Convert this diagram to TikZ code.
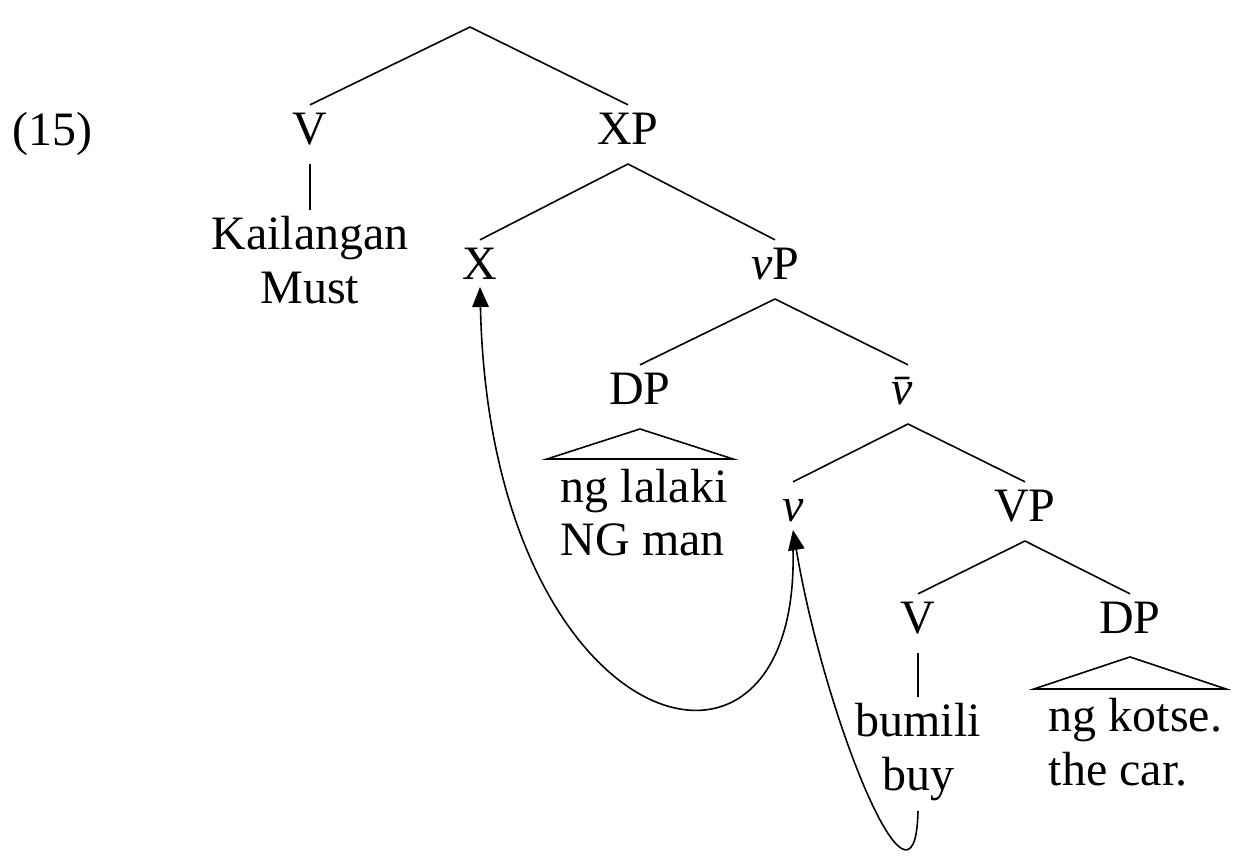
\documentclass[tikz,border=0pt]{standalone}
\usepackage{fontspec}
\setmainfont{Liberation Serif}
\usetikzlibrary{calc,arrows.meta}

\begin{document}
\fontsize{27.3pt}{30.7pt}\selectfont
\begin{tikzpicture}[x=0.02cm, y=-0.02cm, line width=0.9pt,
    cat/.style={inner sep=0pt, text height=0.8em, text depth=0.4em, anchor=base},
    lex/.style={align=center, inner xsep=0pt, inner ysep=0.1cm, anchor=north},
    phrase/.style={align=left, inner sep=0pt, anchor=north west},
    move/.style={-{Triangle[length=0.4cm, width=0.33cm]}}]

    \useasboundingbox (0,0) rectangle (1253,866);

    % example number
    \node[cat, anchor=base west] (exnum) at (12,145) {(15)};


    % top
    \coordinate (top) at (470,27);
    \node[cat] (V_1) at (310,144) {V};
    \node[cat] (XP) at (628,144) {XP};
    \draw (top) -- (V_1.north);
    \draw (top) -- (XP.north);

    \node[lex] (kailangan) at (310,210) {Kailangan\\Must};
    \draw (V_1.south) -- (kailangan.north);


    % XP
    \node[cat] (X) at (480,279) {X};
    \node[cat] (vP) at (775,279) {\textit{v}P};
    \draw (XP.south) -- (X.north);
    \draw (XP.south) -- (vP.north);


    % vP
    \node[cat] (DP_1) at (640,404) {DP};
    \node[cat] (vbar) at (908,404) {\textit{\=v}};
    \draw (vP.south) -- (DP_1.north);
    \draw (vP.south) -- (vbar.north);

    \coordinate (tri_1) at ($(DP_1.south)+(0,5)$);
    \coordinate (tri_1_left) at ($(tri_1)+(-93,30)$);
    \coordinate (tri_1_right) at ($(tri_1)+(93,30)$);
    \draw (tri_1_left) -- (tri_1) -- (tri_1_right) -- cycle;
    \node[phrase] (lalaki) at ($(tri_1_left)+(13,9)$) {ng lalaki\\NG man};


    % v bar
    \node[cat] (v) at (793,521) {\textit{v}};
    \node[cat] (VP) at (1025,521) {VP};
    \draw (vbar.south) -- (v.north);
    \draw (vbar.south) -- (VP.north);


    % VP
    \node[cat] (V_2) at (918,633) {V};
    \node[cat] (DP_2) at (1130,633) {DP};
    \draw (VP.south) -- (V_2.north);
    \draw (VP.south) -- (DP_2.north);

    \node[lex] (bumili) at (918,697) {bumili\\buy};
    \draw (V_2.south) -- (bumili.north);

    \coordinate (tri_2) at ($(DP_2.south)+(0,4)$);
    \coordinate (tri_2_left) at ($(tri_2)+(-96,32)$);
    \coordinate (tri_2_right) at ($(tri_2)+(96,32)$);
    \draw (tri_2_left) -- (tri_2) -- (tri_2_right) -- cycle;
    \node[phrase] (kotse) at ($(tri_2_left)+(14,8)$) {ng kotse.\\the car.};


    % movement
    \coordinate (V_2_tail) at ($(bumili.south)+(0,5)$);
    \coordinate (v_head) at ($(v.base)+(0,9)$);
    \coordinate (v_tail) at ($(v.base)+(0,29)$);
    \coordinate (X_head) at ($(X.base)+(0,8)$);

    \draw[move] (V_2_tail) .. controls (915,940) and (825,720) .. (v_head);
    \draw[move] (v_tail) .. controls (800,830) and (490,740) .. (X_head);

\end{tikzpicture}
\end{document}
